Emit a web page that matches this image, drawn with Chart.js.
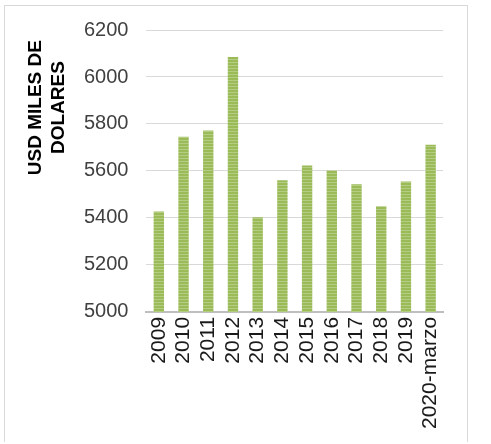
<!DOCTYPE html>
<html>
<head>
<meta charset="utf-8">
<script src="https://cdn.jsdelivr.net/npm/chart.js@4/dist/chart.umd.min.js"></script>
<style>
  html, body { margin: 0; padding: 0; background: #fff; }
  #box { position: absolute; left: 4px; top: 5px; width: 462px; height: 436px; border: 1px solid #d9d9d9; border-bottom: none; }
  #wrap { position: absolute; left: 0; top: 0; width: 491px; height: 444px; }
</style>
</head>
<body>
<div id="box"></div>
<div id="wrap"><canvas id="chart" width="491" height="444"></canvas></div>
<script>
// categories and values
const years = ['2009', '2010', '2011', '2012', '2013', '2014', '2015', '2016', '2017', '2018', '2019', '2020-marzo'];
const values = [5428, 5746, 5772, 6085, 5403, 5560, 5623, 5602, 5543, 5450, 5555, 5712];
const yTicks = [5000, 5200, 5400, 5600, 5800, 6000, 6200];

// striped green fill like the original
function stripes() {
    const c = document.createElement('canvas');
    c.width = 4; c.height = 3;
    const g = c.getContext('2d');
    g.fillStyle = '#9bbb59';
    g.fillRect(0, 0, 4, 3);
    g.fillStyle = '#b4cd82';
    g.fillRect(0, 2, 4, 1);
    return g.createPattern(c, 'repeat');
}

// leading spaces push the axis title up toward the top, like in the original
const pad = ' '.repeat(24);

const ctx = document.getElementById('chart').getContext('2d');
new Chart(ctx, {
    type: 'bar',
    data: {
        labels: years,
        datasets: [{
            data: values,
            backgroundColor: stripes(),
            borderWidth: 0,
            categoryPercentage: 1,
            barPercentage: 0.42
        }]
    },
    options: {
        responsive: false,
        animation: false,
        layout: { padding: { left: 24, right: 48, top: 20, bottom: 10 } },
        plugins: { legend: { display: false }, tooltip: { enabled: false } },
        scales: {
            x: {
                grid: { display: false, drawTicks: false },
                border: { color: '#bfbfbf', width: 2 },
                ticks: {
                    color: '#1a1a1a',
                    font: { family: 'Liberation Sans, Arial', size: 21 },
                    minRotation: 90, maxRotation: 90, autoSkip: false, padding: 5
                }
            },
            y: {
                min: 5000, max: 6200,
                afterBuildTicks: (axis) => { axis.ticks = yTicks.map(v => ({ value: v })); },
                grid: { color: '#d9d9d9', drawTicks: false },
                border: { display: false },
                ticks: {
                    color: '#404040',
                    font: { family: 'Liberation Sans, Arial', size: 20 },
                    padding: 18,
                    callback: (v) => String(v)
                },
                title: {
                    display: true,
                    text: [pad + 'USD MILES DE', pad + 'DOLARES'],
                    color: '#000',
                    font: { family: 'Liberation Sans, Arial', size: 19, weight: 'bold', lineHeight: 1.21 },
                    padding: { top: 0, bottom: -4 }
                }
            }
        }
    }
});
</script>
</body>
</html>
